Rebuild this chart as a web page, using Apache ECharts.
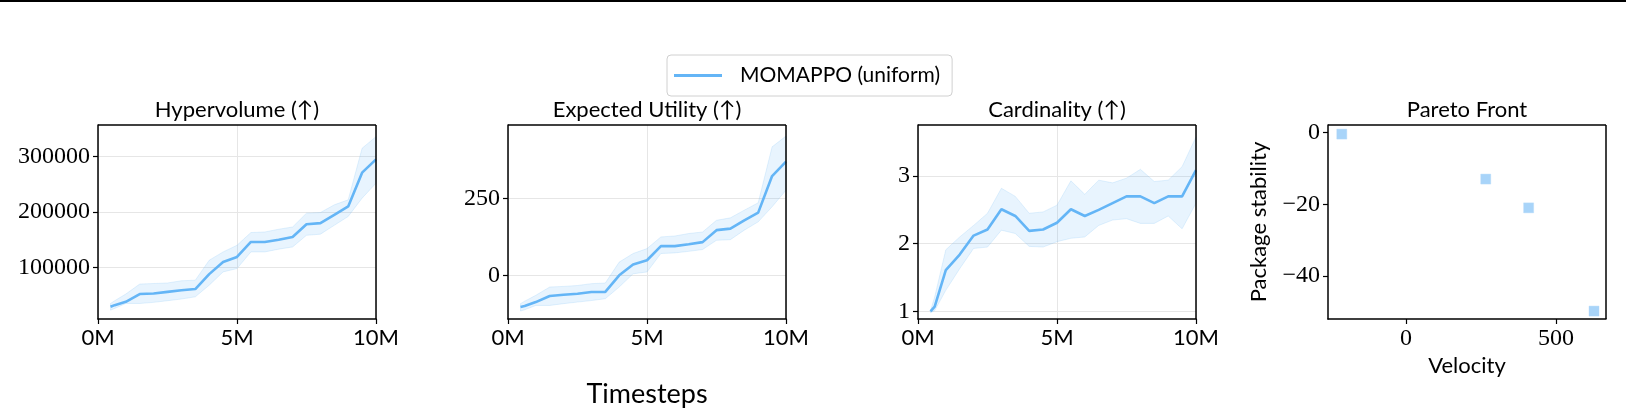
<!DOCTYPE html>
<html>
<head>
<meta charset="utf-8">
<script src="https://cdn.jsdelivr.net/npm/echarts@6/dist/echarts.min.js"></script>
<style>
html,body{margin:0;padding:0;background:#fff;}
#chart{width:1626px;height:411px;}
</style>
</head>
<body>
<div id="chart"></div>
<script>
// ---- data ----
const timesteps = [0.45, 0.6, 1.0, 1.5, 2.0, 2.5, 3.0, 3.5, 4.0, 4.5, 5.0, 5.5, 6.0, 6.5, 7.0, 7.5, 8.0, 8.5, 9.0, 9.5, 10.0]; // millions
const hvMean  = [29000, 32000, 38000, 52000, 53000, 56000, 59000, 61000, 88000, 110000, 119000, 146000, 146000, 150000, 155000, 178000, 180000, 195000, 210000, 271000, 295000];
const hvUpper = [35000, 40000, 52000, 70000, 71000, 72000, 76000, 77000, 113000, 128000, 140000, 163000, 164000, 169000, 173000, 198000, 199000, 213000, 222000, 315000, 336000];
const hvLower = [23000, 26000, 35000, 35000, 37000, 40000, 43000, 47000, 68000, 92000, 98000, 128000, 128000, 133000, 137000, 158000, 160000, 176000, 192000, 225000, 252000];
const euMean  = [-103, -100, -87, -67, -63, -60, -54, -54, 0, 35, 49, 95, 95, 101, 108, 147, 152, 179, 204, 323, 370];
const euUpper = [-92, -84, -65, -38, -36, -33, -27, -25, 43, 71, 87, 125, 128, 136, 141, 179, 187, 212, 236, 418, 453];
const euLower = [-116, -112, -98, -98, -92, -87, -82, -76, -38, 5, 11, 71, 73, 78, 84, 114, 116, 147, 174, 223, 277];
const cardMean  = [1.0, 1.07, 1.61, 1.84, 2.12, 2.21, 2.51, 2.41, 2.19, 2.21, 2.31, 2.51, 2.41, 2.5, 2.6, 2.7, 2.7, 2.6, 2.7, 2.7, 3.09];
const cardUpper = [1.01, 1.21, 1.91, 2.10, 2.27, 2.45, 2.82, 2.70, 2.45, 2.47, 2.57, 2.93, 2.73, 2.94, 2.90, 2.97, 3.10, 2.92, 2.94, 3.14, 3.58];
const cardLower = [0.98, 1.01, 1.31, 1.63, 1.93, 1.95, 2.20, 2.15, 1.96, 1.95, 2.03, 2.08, 2.10, 2.27, 2.35, 2.37, 2.30, 2.30, 2.41, 2.22, 2.60];
const paretoVelocity  = [-214, 266, 409, 627];
const paretoStability = [-0.5, -13.0, -21.0, -49.7];

const xTicks = [0, 5, 10];
const xTickLabels = ['0M', '5M', '10M'];
const hvTicks = [100000, 200000, 300000];
const euTicks = [0, 250];
const cardTicks = [1, 2, 3];
const velTicks = [0, 500];
const stabTicks = [-40, -20, 0];

const panelTitles = ['Hypervolume (↑)', 'Expected Utility (↑)', 'Cardinality (↑)', 'Pareto Front'];
const seriesName = 'MOMAPPO (uniform)';

// ---- styling ----
const SANS = 'Lato, "Open Sans", sans-serif';
const SERIF = '"Liberation Serif", "DejaVu Serif", serif';
const LINE = '#64B5F6';
const BAND = 'rgba(100,181,246,0.15)';
const BAND_EDGE = 'rgba(100,181,246,0.22)';
const GRIDC = '#e6e6e6';
const SPINE = 1.5;

const gridTop = 125, gridH = 194, gridW = 278;
const lefts = [98, 508, 918, 1328];
const xRanges = [[0, 10], [0, 10], [0, 10], [-260, 667]];
const yRanges = [[7000, 357000], [-142, 489], [0.886, 3.756], [-51.9, 2.03]];

function numFmt(v) { return v < 0 ? '\u2212' + Math.abs(v) : String(v); }

function xAxisTime(i) {
  return {
    type: 'value', gridIndex: i, min: xRanges[i][0], max: xRanges[i][1], minInterval: 5, maxInterval: 5,
    axisLine: { show: true, onZero: false, lineStyle: { color: '#000', width: SPINE } },
    axisTick: { show: true, inside: false, length: 5, lineStyle: { color: '#000', width: 1.2 }, customValues: xTicks },
    axisLabel: { customValues: xTicks, formatter: v => xTickLabels[xTicks.indexOf(v)], fontFamily: SANS, fontSize: 22, color: '#000', margin: 8 },
    splitLine: { show: true, lineStyle: { color: GRIDC, width: 1 } }
  };
}
function yAxisVal(i, ticks, interval, grid) {
  return {
    type: 'value', gridIndex: i, min: yRanges[i][0], max: yRanges[i][1], minInterval: interval, maxInterval: interval,
    axisLine: { show: true, onZero: false, lineStyle: { color: '#000', width: SPINE } },
    axisTick: { show: true, inside: false, length: 5, lineStyle: { color: '#000', width: 1.2 }, customValues: ticks },
    axisLabel: { customValues: ticks, formatter: numFmt, fontFamily: SERIF, fontSize: 24, color: '#000', margin: 8 },
    splitLine: { show: grid, lineStyle: { color: GRIDC, width: 1 } }
  };
}
function band(i, upper, lower) {
  return {
    type: 'custom', xAxisIndex: i, yAxisIndex: i, silent: true, z: 1,
    data: timesteps.map((t, k) => [t, upper[k], lower[k]]),
    encode: { x: 0, y: [1, 2] },
    renderItem: function (params, api) {
      if (params.dataIndex !== 0) return null;
      const pts = [];
      for (let k = 0; k < timesteps.length; k++) pts.push(api.coord([timesteps[k], upper[k]]));
      for (let k = timesteps.length - 1; k >= 0; k--) pts.push(api.coord([timesteps[k], lower[k]]));
      return { type: 'polygon', shape: { points: pts }, style: { fill: BAND, stroke: BAND_EDGE, lineWidth: 0.8 } };
    }
  };
}
function meanLine(i, vals) {
  return {
    type: 'line', name: seriesName, xAxisIndex: i, yAxisIndex: i, z: 3,
    data: timesteps.map((t, k) => [t, vals[k]]),
    showSymbol: false, symbol: 'none', smooth: false,
    lineStyle: { color: LINE, width: 2.6 }, itemStyle: { color: LINE }
  };
}

// top and right spines of each panel frame
const frameEls = [];
lefts.forEach(l => {
  const x0 = l, x1 = l + gridW, y0 = gridTop, y1 = gridTop + gridH;
  frameEls.push({ type: 'line', silent: true, z: 100, shape: { x1: x0, y1: y0, x2: x1, y2: y0 }, style: { stroke: '#000', lineWidth: SPINE } });
  frameEls.push({ type: 'line', silent: true, z: 100, shape: { x1: x1, y1: y0, x2: x1, y2: y1 }, style: { stroke: '#000', lineWidth: SPINE } });
});

const chart = echarts.init(document.getElementById('chart'), null, { renderer: 'canvas' });

const option = {
  animation: false,
  backgroundColor: '#fff',
  grid: lefts.map(l => ({ left: l, top: gridTop, width: gridW, height: gridH, containLabel: false })),
  xAxis: [
    xAxisTime(0), xAxisTime(1), xAxisTime(2),
    {
      type: 'value', gridIndex: 3, min: xRanges[3][0], max: xRanges[3][1], minInterval: 500, maxInterval: 500,
      name: 'Velocity', nameLocation: 'middle', nameGap: 36,
      nameTextStyle: { fontFamily: SANS, fontSize: 22, color: '#000' },
      axisLine: { show: true, onZero: false, lineStyle: { color: '#000', width: SPINE } },
      axisTick: { show: true, inside: false, length: 5, lineStyle: { color: '#000', width: 1.2 }, customValues: velTicks },
      axisLabel: { customValues: velTicks, formatter: numFmt, fontFamily: SERIF, fontSize: 24, color: '#000', margin: 8 },
      splitLine: { show: false }
    }
  ],
  yAxis: [
    yAxisVal(0, hvTicks, 100000, true),
    yAxisVal(1, euTicks, 250, true),
    yAxisVal(2, cardTicks, 1, true),
    Object.assign(yAxisVal(3, stabTicks, 20, false), {
      name: 'Package stability', nameLocation: 'middle', nameGap: 58,
      nameTextStyle: { fontFamily: SANS, fontSize: 22, color: '#000' }
    })
  ],
  legend: {
    show: true, data: [{ name: seriesName, icon: 'rect' }],
    left: 667, top: 55, itemWidth: 48, itemHeight: 3,
    padding: [10, 12, 10, 7], borderColor: '#d0d0d0', borderWidth: 1, borderRadius: 4,
    backgroundColor: '#fff',
    textStyle: { fontFamily: SANS, fontSize: 21, color: '#000', padding: [0, 0, 0, 13] }
  },
  series: [
    band(0, hvUpper, hvLower), meanLine(0, hvMean),
    band(1, euUpper, euLower), meanLine(1, euMean),
    band(2, cardUpper, cardLower), meanLine(2, cardMean),
    {
      type: 'scatter', name: 'pareto', xAxisIndex: 3, yAxisIndex: 3, z: 3,
      data: paretoVelocity.map((v, k) => [v, paretoStability[k]]),
      symbol: 'rect', symbolSize: 10,
      itemStyle: { color: '#92C9F8', borderColor: '#b5dafb', borderWidth: 0.5 }
    }
  ],
  graphic: [
    { type: 'line', silent: true, shape: { x1: 0, y1: 1, x2: 1626, y2: 1 }, style: { stroke: '#000', lineWidth: 2 } },
    ...frameEls,
    ...panelTitles.map((t, i) => ({
      type: 'text', x: lefts[i] + gridW / 2, y: 110,
      style: { text: t, align: 'center', verticalAlign: 'middle', font: '22px ' + SANS, fill: '#000' }
    })),
    { type: 'text', x: 647, y: 394, style: { text: 'Timesteps', align: 'center', verticalAlign: 'middle', font: '27px ' + SANS, fill: '#000' } }
  ]
};
chart.setOption(option);
</script>
</body>
</html>
